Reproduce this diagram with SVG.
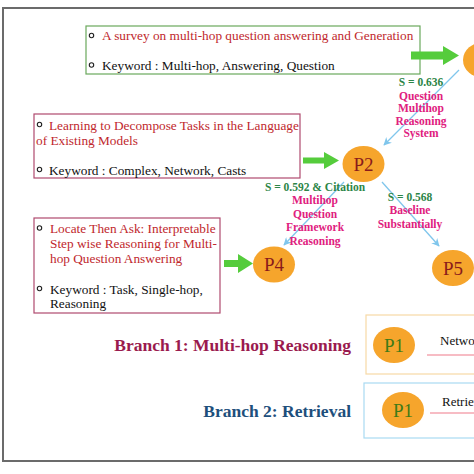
<svg xmlns="http://www.w3.org/2000/svg" width="474" height="474" viewBox="0 0 474 474">
<defs>
<style>
.t{font-family:"Liberation Serif","Times New Roman",serif;}
.red{fill:#c0272d;font-size:13.3px;}
.blk{fill:#111;font-size:13.3px;}
.lab{font-family:"Liberation Serif",serif;font-weight:bold;font-size:11.5px;text-anchor:middle;}
.s{fill:#2c8547;}
.m{fill:#e0207e;}
.node{fill:#f6a52c;}
.pt{font-family:"Liberation Serif",serif;font-size:19px;text-anchor:middle;fill:#8a1b1b;}
.p1{fill:#3f7a17;}
.bul{fill:none;stroke:#222;stroke-width:1.1;}
.conn{stroke:#80c6ec;stroke-width:1.3;fill:none;marker-end:url(#ah);}
.garrow{fill:#55cc3c;}
</style>
<marker id="ah" viewBox="0 0 10 10" refX="9" refY="5" markerWidth="8" markerHeight="8" orient="auto" markerUnits="userSpaceOnUse">
<path d="M0,0 L10,5 L0,10 L3,5 Z" fill="#80c6ec"/>
</marker>
</defs>
<rect width="474" height="474" fill="#fff"/>
<rect x="3" y="8" width="490" height="453" fill="none" stroke="#6b6b6b" stroke-width="2"/>

<g id="box1">
<rect x="86" y="26" width="334" height="48" fill="#fff" stroke="#6aa85c" stroke-width="1.2"/>
<circle class="bul" cx="91.5" cy="35.5" r="2.2"/>
<text class="t red" x="102" y="40">A survey on multi-hop question answering and Generation</text>
<circle class="bul" cx="91.5" cy="65" r="2.2"/>
<text class="t blk" x="102" y="69.5">Keyword : Multi-hop, Answering, Question</text>
</g>

<g id="box2">
<rect x="34" y="114" width="266" height="64" fill="#fff" stroke="#b04a6e" stroke-width="1.2"/>
<circle class="bul" cx="39.5" cy="124.5" r="2.2"/>
<text class="t red" x="49" y="129.5">Learning to Decompose Tasks in the Language</text>
<text class="t red" x="36" y="144.5">of Existing Models</text>
<circle class="bul" cx="39.5" cy="169.5" r="2.2"/>
<text class="t blk" x="49" y="174.5">Keyword : Complex, Network, Casts</text>
</g>

<g id="box3">
<rect x="34" y="218" width="186" height="95" fill="#fff" stroke="#b04a6e" stroke-width="1.2"/>
<circle class="bul" cx="39.5" cy="228" r="2.2"/>
<text class="t red" x="50" y="232.5">Locate Then Ask: Interpretable</text>
<text class="t red" x="50" y="247.5">Step wise Reasoning for Multi-</text>
<text class="t red" x="50" y="262.5">hop Question Answering</text>
<circle class="bul" cx="39.5" cy="288.5" r="2.2"/>
<text class="t blk" x="50" y="293.5">Keyword : Task, Single-hop,</text>
<text class="t blk" x="50" y="307.5">Reasoning</text>
</g>

<g id="arrows-green">
<polygon class="garrow" points="411,51.5 443,51.5 443,46 459,55.5 443,65 443,59.5 411,59.5"/>
<polygon class="garrow" points="303,157.5 324,157.5 324,152 339,160.5 324,169 324,163.5 303,163.5"/>
<polygon class="garrow" points="224,260 238,260 238,254 253,263.5 238,273 238,267 224,267"/>
</g>

<g id="connectors">
<line class="conn" x1="459" y1="70" x2="384" y2="145"/>
<line class="conn" x1="344" y1="182" x2="284" y2="245"/>
<line class="conn" x1="382" y1="182" x2="439" y2="246"/>
</g>

<g id="label-p3p2">
<text class="lab s" x="421" y="86">S = 0.636</text>
<text class="lab m" x="421" y="99.5">Question</text>
<text class="lab m" x="421" y="112">Multihop</text>
<text class="lab m" x="421" y="124.5">Reasoning</text>
<text class="lab m" x="421" y="137">System</text>
</g>
<g id="label-p2p4">
<text class="lab s" x="315" y="190.5">S = 0.592 &amp; Citation</text>
<text class="lab m" x="315" y="204">Multihop</text>
<text class="lab m" x="315" y="217.5">Question</text>
<text class="lab m" x="315" y="231">Framework</text>
<text class="lab m" x="315" y="244.5">Reasoning</text>
</g>
<g id="label-p2p5">
<text class="lab s" x="410" y="200.5">S = 0.568</text>
<text class="lab m" x="410" y="214">Baseline</text>
<text class="lab m" x="410" y="227.5">Substantially</text>
</g>

<g id="P3"><ellipse class="node" cx="484" cy="60" rx="21" ry="18"/></g>
<g id="P2"><ellipse class="node" cx="363.5" cy="164" rx="21" ry="18"/><text class="pt" x="363.5" y="170.5">P2</text></g>
<g id="P4"><ellipse class="node" cx="274" cy="264.5" rx="21" ry="18"/><text class="pt" x="274" y="271">P4</text></g>
<g id="P5"><ellipse class="node" cx="453" cy="268" rx="21" ry="18"/><text class="pt" x="453" y="274.5">P5</text></g>

<g id="branch1">
<text class="t" x="351" y="351" text-anchor="end" font-weight="bold" font-size="17.5" fill="#9a1a4e">Branch 1: Multi-hop Reasoning</text>
</g>
<g id="branch2">
<text class="t" x="351" y="417" text-anchor="end" font-weight="bold" font-size="17.5" fill="#1e4f7c">Branch 2: Retrieval</text>
</g>

<g id="legend1">
<rect x="366" y="315" width="130" height="59" fill="#fff" stroke="#f7d9a6" stroke-width="1.2"/>
<ellipse class="node" cx="394" cy="345" rx="21" ry="18"/>
<text class="pt p1" x="394" y="351.5">P1</text>
<text class="t" x="440" y="345" font-size="13" fill="#111">Network</text>
<line x1="427" y1="355" x2="480" y2="355" stroke="#f07a8a" stroke-width="1.2"/>
</g>
<g id="legend2">
<rect x="364" y="383" width="130" height="55" fill="#fff" stroke="#a9daf2" stroke-width="1.2"/>
<ellipse class="node" cx="403" cy="410" rx="21" ry="18"/>
<text class="pt p1" x="403" y="416.5">P1</text>
<text class="t" x="442" y="406" font-size="13" fill="#111">Retrieval</text>
<line x1="430" y1="413" x2="480" y2="413" stroke="#f07a8a" stroke-width="1.2"/>
</g>
</svg>
